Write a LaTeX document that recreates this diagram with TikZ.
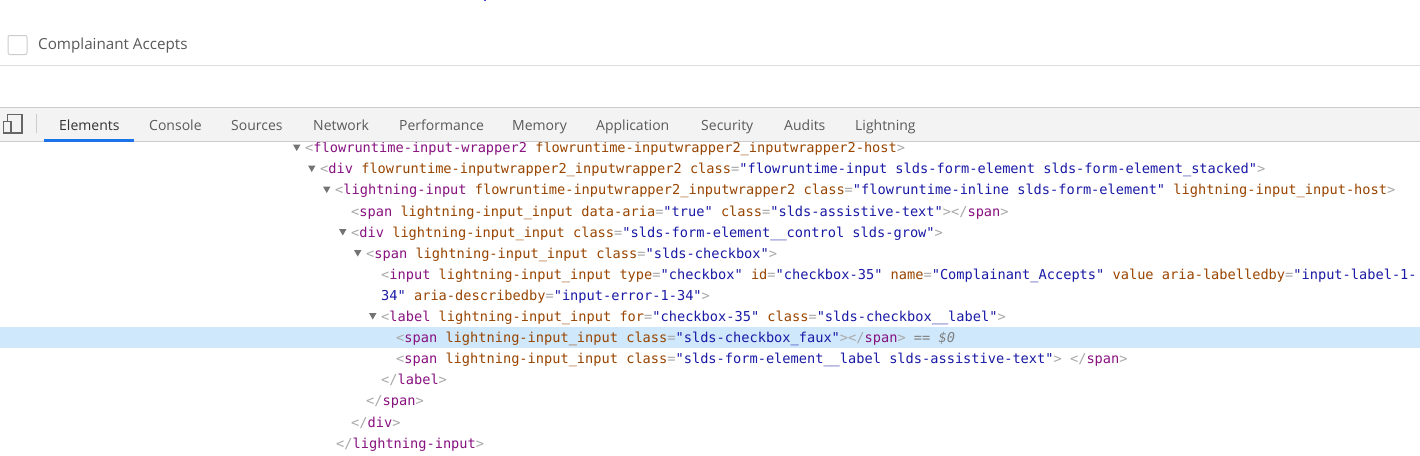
\documentclass[tikz,border=0pt]{standalone}
\usepackage{fontspec}
\setmainfont{Open Sans}
\setmonofont{DejaVu Sans Mono}
\usetikzlibrary{positioning}

\definecolor{tagcol}{HTML}{881280}
\definecolor{attrcol}{HTML}{994500}
\definecolor{valcol}{HTML}{1A1AA6}
\definecolor{puncol}{HTML}{A8A8A8}
\definecolor{barcol}{HTML}{F3F3F3}
\definecolor{rulecol}{HTML}{CCCCCC}
\definecolor{selcol}{HTML}{CFE8FC}
\definecolor{tabcol}{HTML}{5A5A5A}
\definecolor{tabblue}{HTML}{1A73E8}

\newcommand{\dtag}[1]{\textcolor{tagcol}{#1}}
\newcommand{\dattr}[1]{\textcolor{attrcol}{#1}}
\newcommand{\dval}[1]{\textcolor{valcol}{#1}}
\newcommand{\dpun}[1]{\textcolor{puncol}{#1}}
\newcommand{\dkv}[2]{\dattr{#1}\dpun{=}\dval{"#2"}}
\newcommand{\dtri}[2]{\fill[black!55] (#1-12,#2-8) -- ++(7.5,0) -- ++(-3.75,6.5) -- cycle;}

\begin{document}
\begin{tikzpicture}[x=1pt,y=-1pt]
	\useasboundingbox (0,0) rectangle (1420,455);
	\fill[white] (0,0) rectangle (1420,455);
	\fill[selcol] (0,327) rectangle (1420,348);

	% dom lines
	\begin{scope}[every node/.style={anchor=base west, inner sep=0pt, font=\ttfamily\fontsize{13.65}{16}\selectfont}]
		\node (wrapper) at (305,152.5) {\dpun{<}\dtag{flowruntime-input-wrapper2} \dattr{flowruntime-inputwrapper2\_inputwrapper2-host}\dpun{>}};
		\node (outerdiv) at (320,173.5) {\dpun{<}\dtag{div} \dattr{flowruntime-inputwrapper2\_inputwrapper2} \dkv{class}{flowruntime-input slds-form-element slds-form-element\_stacked}\dpun{>}};
		\node (lightning) at (335,194.5) {\dpun{<}\dtag{lightning-input} \dattr{flowruntime-inputwrapper2\_inputwrapper2} \dkv{class}{flowruntime-inline slds-form-element} \dattr{lightning-input\_input-host}\dpun{>}};
		\node (assist) at (351,216) {\dpun{<}\dtag{span} \dattr{lightning-input\_input} \dkv{data-aria}{true} \dkv{class}{slds-assistive-text}\dpun{></}\dtag{span}\dpun{>}};
		\node (control) at (351,237) {\dpun{<}\dtag{div} \dattr{lightning-input\_input} \dkv{class}{slds-form-element\_\_control slds-grow}\dpun{>}};
		\node (boxspan) at (366,258) {\dpun{<}\dtag{span} \dattr{lightning-input\_input} \dkv{class}{slds-checkbox}\dpun{>}};
		\node (inputa) at (381,279) {\dpun{<}\dtag{input} \dattr{lightning-input\_input} \dkv{type}{checkbox} \dkv{id}{checkbox-35} \dkv{name}{Complainant\_Accepts} \dattr{value} \dattr{aria-labelledby}\dpun{=}\dval{"input-label-1-}};
		\node (inputb) at (381,300) {\dval{34"} \dkv{aria-describedby}{input-error-1-34}\dpun{>}};
		\node (boxlabel) at (381,321) {\dpun{<}\dtag{label} \dattr{lightning-input\_input} \dkv{for}{checkbox-35} \dkv{class}{slds-checkbox\_\_label}\dpun{>}};
		\node (faux) at (396,342) {\dpun{<}\dtag{span} \dattr{lightning-input\_input} \dkv{class}{slds-checkbox\_faux}\dpun{></}\dtag{span}\dpun{>} \textcolor{black!50}{== \textit{\$0}}};
		\node (formlabel) at (396,363) {\dpun{<}\dtag{span} \dattr{lightning-input\_input} \dkv{class}{slds-form-element\_\_label slds-assistive-text}\dpun{>} \dpun{</}\dtag{span}\dpun{>}};
		\node (endlabel) at (381,384.5) {\dpun{</}\dtag{label}\dpun{>}};
		\node (endspan) at (366,405.5) {\dpun{</}\dtag{span}\dpun{>}};
		\node (enddiv) at (351,427) {\dpun{</}\dtag{div}\dpun{>}};
		\node (endinput) at (336,448) {\dpun{</}\dtag{lightning-input}\dpun{>}};
	\end{scope}

	\dtri{305}{152.5}
	\dtri{320}{173.5}
	\dtri{335}{194.5}
	\dtri{351}{237}
	\dtri{366}{258}
	\dtri{381}{321}

	% toolbar
	\fill[barcol] (0,107.5) rectangle (1420,141);
	\draw[rulecol] (0,107.5) -- (1420,107.5);
	\draw[rulecol] (0,141.5) -- (1420,141.5);
	\fill[tabblue] (44,139) rectangle (134,141.5);
	\draw[rulecol] (36.5,114) -- (36.5,133);
	\draw[black!60, line width=1.2pt] (7.5,114.5) rectangle (22,133);
	\draw[black!60, fill=barcol, line width=1.2pt] (3.5,121.5) rectangle (11,133);

	\begin{scope}[every node/.style={anchor=base west, inner sep=0pt, text=tabcol, font=\fontsize{14}{16}\selectfont}]
		\node[text=black!80] (elements) at (59,130) {Elements};
		\node (console) at (149,130) {Console};
		\node (sources) at (231,130) {Sources};
		\node (network) at (313,130) {Network};
		\node (performance) at (399,130) {Performance};
		\node (memory) at (512,130) {Memory};
		\node (application) at (596,130) {Application};
		\node (security) at (701,130) {Security};
		\node (audits) at (784,130) {Audits};
		\node (lightningtab) at (855,130) {Lightning};
	\end{scope}

	% page part
	\node[draw=black!20, fill=white, line width=1pt, rounded corners=2pt, minimum size=19pt, inner sep=0pt] (checkbox) at (17.5,45) {};
	\node[anchor=base west, inner sep=0pt, text=black!65, font=\fontsize{15.2}{18}\selectfont] (complainant) at (38,49) {Complainant Accepts};
	\draw[black!13] (0,65.5) -- (1420,65.5);
	\fill[blue!80!black] (485,0) circle (1.2);
\end{tikzpicture}
\end{document}
